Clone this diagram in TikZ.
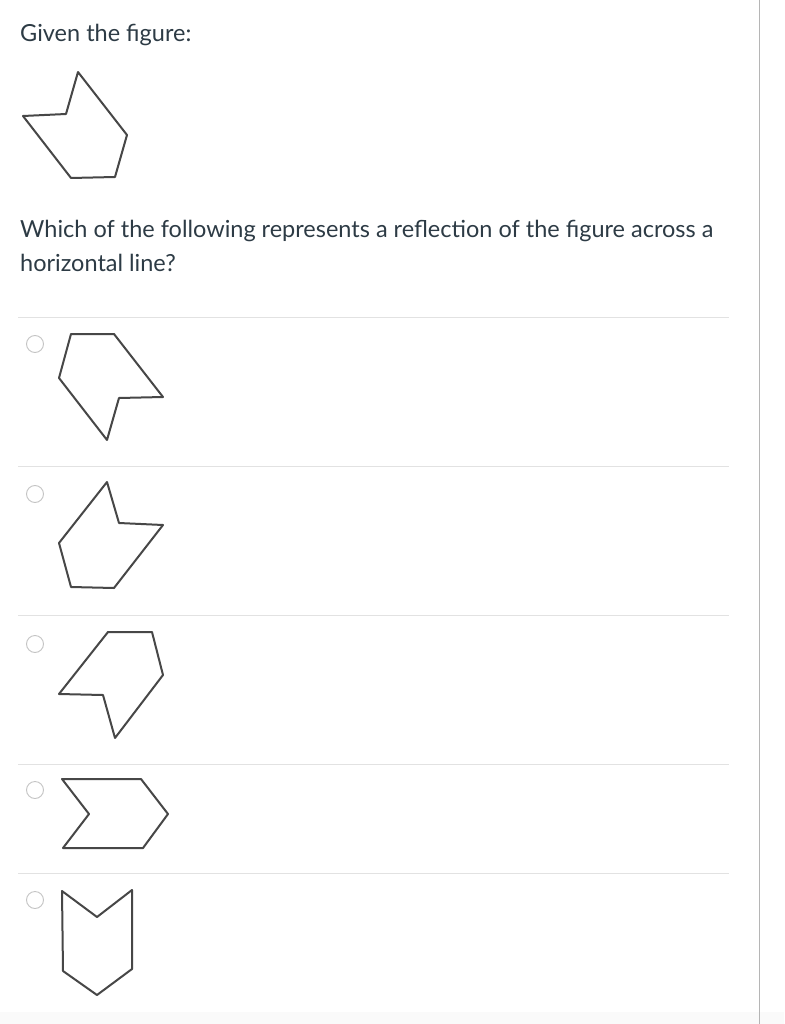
\documentclass[tikz,border=0pt]{standalone}
\usepackage{fontspec}
\setmainfont{Lato}
\definecolor{txt}{HTML}{2D3B45}
\definecolor{sep}{HTML}{E2E2E2}
\definecolor{vbar}{HTML}{B5B5B5}
\definecolor{radio}{HTML}{C4C4C4}
\definecolor{shp}{HTML}{474747}
\begin{document}
\begin{tikzpicture}[x=1pt,y=-1pt,
  qtext/.style={anchor=base west,inner sep=0pt,text=txt,font=\fontsize{23.5}{28}\selectfont},
  sepline/.style={draw=sep,line width=1pt},
  radiobtn/.style={draw=radio,line width=0.9pt,fill=white},
  poly/.style={draw=shp,line width=2pt,line join=round}]
\useasboundingbox (0,0) rectangle (784,1024);
\fill[white] (0,0) rectangle (784,1024);
\fill[black!2] (0,1012) rectangle (784,1024);
% right border
\draw[vbar,line width=1.8pt] (759.5,0) -- (759.5,1024);
% texts
\node[qtext] (t1) at (20,42) {Given the figure:};
\node[qtext] (t2) at (20,237) {Which of the following represents a reflection of the figure across a};
\node[qtext] (t3) at (20,271) {horizontal line?};
% given figure
\draw[poly] (78,72) -- (66,114) -- (23,116) -- (71,178) -- (115,177) -- (127,135) -- cycle;
% separators
\foreach \yy in {317.5,466,615,764,873}{\draw[sepline] (18,\yy) -- (729,\yy);}
% radio buttons
\foreach \yy in {344,494,644,790,900}{\draw[radiobtn] (35,\yy) circle (8.5);}
% option 1
\draw[poly] (71,334) -- (114,334) -- (163,397) -- (119,398) -- (107,440) -- (59,378) -- cycle;
% option 2
\draw[poly] (107,482) -- (119,523) -- (163,525) -- (114,588) -- (71,587) -- (59,543) -- cycle;
% option 3
\draw[poly] (108,632) -- (152,632) -- (163,675) -- (115,738) -- (103,695) -- (59,694) -- cycle;
% option 4
\draw[poly] (62,779) -- (141,779) -- (168,814) -- (143,848) -- (63,848) -- (89,814) -- cycle;
% option 5
\draw[poly] (62,891) -- (97,917) -- (132,890) -- (132,969) -- (97,995) -- (63,971) -- cycle;
\end{tikzpicture}
\end{document}
